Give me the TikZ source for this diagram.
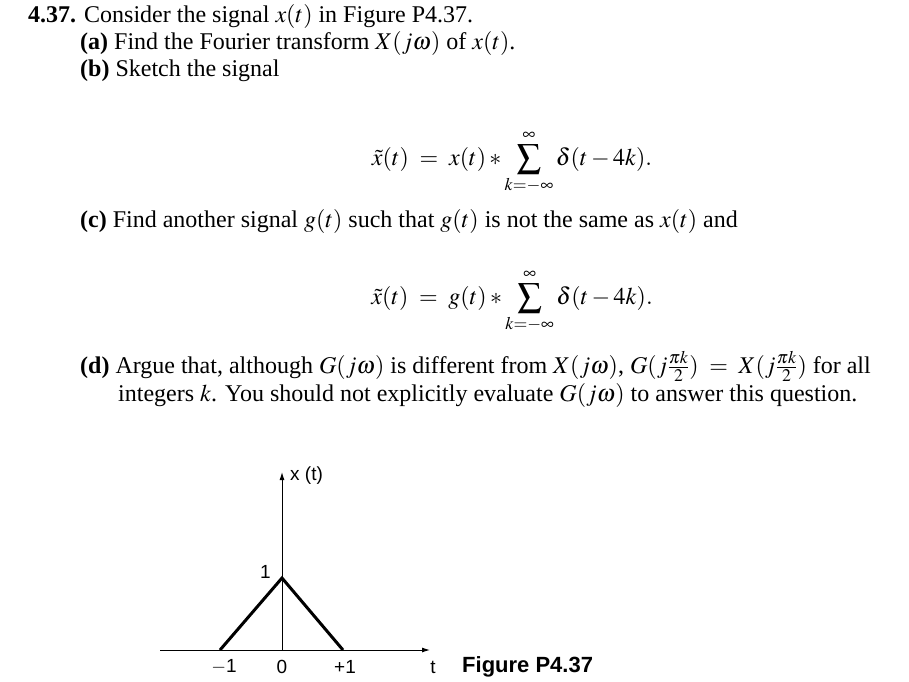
\documentclass[tikz,border=0pt]{standalone}
\usepackage{mathptmx}
\usepackage{fontspec}
\setmainfont{Liberation Serif}
\setsansfont{Liberation Sans}
\usetikzlibrary{arrows.meta}
\begin{document}
\begin{tikzpicture}[x=1pt,y=-1pt,
  txt/.style={anchor=base west,inner sep=0pt,font=\fontsize{24}{27}\selectfont},
  eqn/.style={anchor=base,inner sep=0pt,font=\fontsize{24}{27}\selectfont},
  lab/.style={inner sep=0pt,font=\sffamily\fontsize{19}{22}\selectfont}]
\useasboundingbox (0,0) rectangle (909,681);
\node[txt] (l1) at (28,22) {\textbf{4.37.} Consider the signal $x(t)$ in Figure P4.37.};
\node[txt] (l2) at (80,49) {\textbf{(a)} Find the Fourier transform $X(j\omega)$ of $x(t)$.};
\node[txt] (l3) at (80,76) {\textbf{(b)} Sketch the signal};
\node[eqn] (e1) at (512,165) {$\displaystyle \tilde{x}(t)\;=\;x(t)*\sum_{k=-\infty}^{\infty}\delta(t-4k).$};
\node[txt] (l4) at (80,227) {\textbf{(c)} Find another signal $g(t)$ such that $g(t)$ is not the same as $x(t)$ and};
\node[eqn] (e2) at (512,304) {$\displaystyle \tilde{x}(t)\;=\;g(t)*\sum_{k=-\infty}^{\infty}\delta(t-4k).$};
\node[txt] (l5) at (80,373) {\textbf{(d)} Argue that, although $G(j\omega)$ is different from $X(j\omega)$, $G(j\frac{\pi k}{2})\;=\;X(j\frac{\pi k}{2})$ for all};
\node[txt] (l6) at (118,401) {integers $k$. You should not explicitly evaluate $G(j\omega)$ to answer this question.};
% plot
\coordinate (o) at (282,650);
\coordinate (xe) at (430,650);
\coordinate (xs) at (160,650);
\coordinate (yt) at (282,472);
\coordinate (m1) at (220,650);
\coordinate (p1) at (343,650);
\coordinate (pk) at (282,578);
\draw[line width=1pt,-{Latex[length=8pt,width=5pt]}] (xs) -- (xe);
\draw[line width=1pt,-{Latex[length=8pt,width=5pt]}] (o) -- (yt);
\draw[line width=3pt,line join=miter] (m1) -- (pk) -- (p1);
\node[lab,anchor=west] (xl) at (290,476) {x (t)};
\node[lab,anchor=east] (one) at (271,572) {1};
\node[lab] (lm1) at (224,667) {$-$1};
\node[lab] (l0) at (282,667) {0};
\node[lab] (lp1) at (345,667) {+1};
\node[lab] (tl) at (433,667) {t};
\node[lab,anchor=west,font=\sffamily\bfseries\fontsize{22}{24}\selectfont] (fig) at (462,667) {Figure P4.37};
\end{tikzpicture}
\end{document}
